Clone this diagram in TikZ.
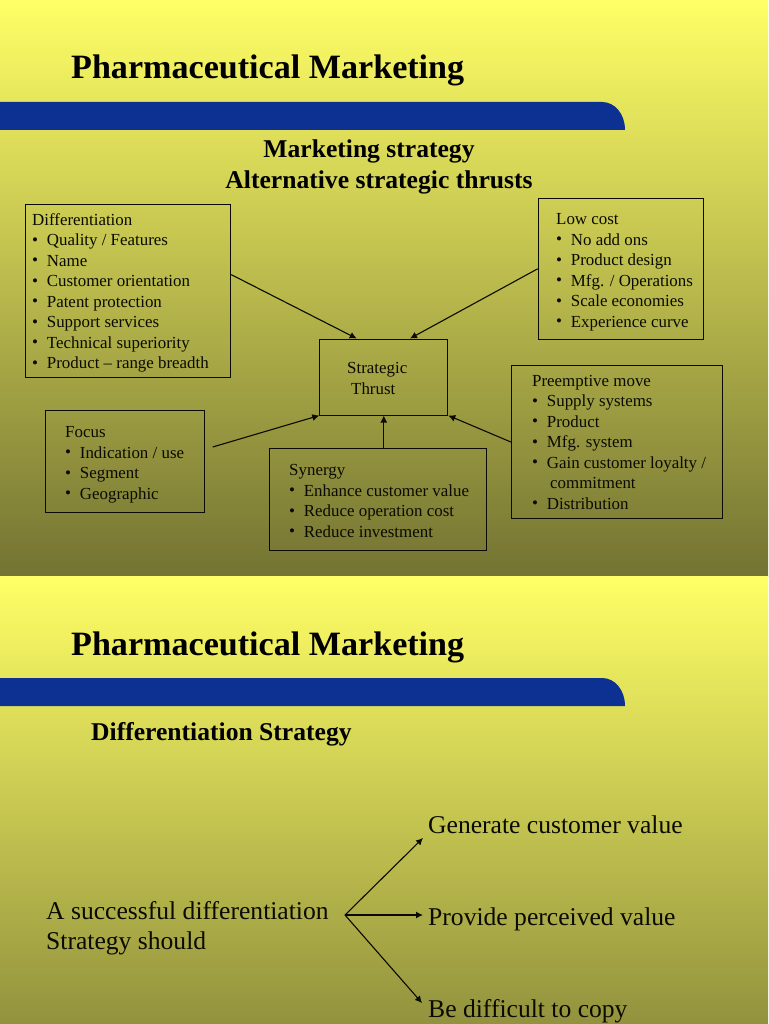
\documentclass[tikz,border=0pt]{standalone}
\usepackage{fontspec}
\setmainfont{Liberation Serif}
\usetikzlibrary{calc,arrows.meta}
\definecolor{slidetop}{HTML}{FFFF66}
\definecolor{slidebot}{HTML}{737333}
\definecolor{barblue}{HTML}{0C3193}
\definecolor{ink}{HTML}{0A0A00}
\newcommand{\bl}{\makebox[14.7pt][l]{\raisebox{0.5pt}{\fontsize{17}{17}\selectfont\textbullet}}}
\tikzset{
  x=1pt,y=-1pt,
  slidebg/.style={bottom color=slidebot,top color=slidetop,draw=none},
  boxed/.style={draw=ink,line width=1pt,inner sep=0pt},
  boxtext/.style={inner sep=0pt,anchor=north west,align=left,text=ink,font=\fontsize{16.9}{20.5}\selectfont},
  heading/.style={inner sep=0pt,text=black,font=\bfseries\fontsize{25.6}{31}\selectfont},
  titletext/.style={inner sep=0pt,anchor=base west,text=black,font=\bfseries\fontsize{34.1}{38}\selectfont},
  bigtext/.style={inner sep=0pt,anchor=base west,align=left,text=ink,font=\fontsize{25.6}{30.5}\selectfont},
  conn/.style={draw=ink,line width=1.1pt,-{Latex[length=7pt,width=7pt]}},
}
\begin{document}
\begin{tikzpicture}
\useasboundingbox (0,0) rectangle (768,1024);
\clip (0,0) rectangle (768,1024);
% slide backgrounds
\fill[slidebg] (0,576) rectangle (768,0);
\fill[slidebg] (0,1152) rectangle (768,576);
% bars
\fill[barblue] (0,102) -- (602,102) .. controls (615,102) and (625,114) .. (625,130) -- (0,130) -- cycle;
\fill[barblue] (0,678) -- (602,678) .. controls (615,678) and (625,690) .. (625,706) -- (0,706) -- cycle;
% titles
\node[titletext] (title1) at (71,79) {Pharmaceutical Marketing};
\node[titletext] (title2) at (71,655) {Pharmaceutical Marketing};
\node[heading] (sub1) at (369,151.5) {Marketing strategy};
\node[heading] (sub2) at (379,182.5) {Alternative strategic thrusts};
\node[heading,anchor=west] (sub3) at (91,734) {Differentiation Strategy};
% boxes
\node[boxed,minimum width=205pt,minimum height=173pt] (diff) at (128.2,290.8) {};
\node[boxed,minimum width=165pt,minimum height=141pt] (low) at (620.7,268.8) {};
\node[boxed,minimum width=128pt,minimum height=76pt] (thrust) at (383.8,377) {};
\node[boxed,minimum width=159pt,minimum height=102pt] (focus) at (124.7,461) {};
\node[boxed,minimum width=217pt,minimum height=102pt] (syn) at (377.8,499) {};
\node[boxed,minimum width=211pt,minimum height=153.5pt] (pre) at (617.3,442.2) {};
% box texts
\node[boxtext] (difft) at (32,213) {Differentiation\\\bl Quality / Features\\\bl Name\\\bl Customer orientation\\\bl Patent protection\\\bl Support services\\\bl Technical superiority\\\bl Product -- range breadth};
\node[boxtext] (lowt) at (556,213.5) {Low cost\\\bl No add ons\\\bl Product design\\\bl Mfg. / Operations\\\bl Scale economies\\\bl Experience curve};
\node[boxtext] (thrustt) at (347,362.5) {Strategic\\\hspace*{4pt}Thrust};
\node[boxtext] (focust) at (65,426.5) {Focus\\\bl Indication / use\\\bl Segment\\\bl Geographic};
\node[boxtext] (synt) at (289,464.5) {Synergy\\\bl Enhance customer value\\\bl Reduce operation cost\\\bl Reduce investment};
\node[boxtext] (pret) at (532,375) {Preemptive move\\\bl Supply systems\\\bl Product\\\bl Mfg. system\\\bl Gain customer loyalty /\\\hspace*{18pt}commitment\\\bl Distribution};
% connectors
\draw[conn] ($(diff.north east)!.407!(diff.south east)$) -- ($(thrust.north west)!.29!(thrust.north east)$);
\draw[conn] (low.west) -- ($(thrust.north west)!.703!(thrust.north east)$);
\draw[conn] ([shift={(8pt,14pt)}]focus.east) -- (thrust.south west);
\draw[conn] (thrust.south |- syn.north) -- (thrust.south);
\draw[conn] (pre.west) -- (thrust.south east);
% slide 2 diagram
\node[bigtext] (src) at (46,949.5) {A successful differentiation\\Strategy should};
\coordinate (hub) at (345,915);
\node[bigtext] (gen) at (428,833) {Generate customer value};
\node[bigtext] (prov) at (428,925) {Provide perceived value};
\node[bigtext] (copy) at (428,1017) {Be difficult to copy};
\draw[conn] (hub) -- ([shift={(-5pt,-5pt)}]gen.base west);
\draw[conn] (hub) -- ([xshift=-5pt]hub -| prov.west);
\draw[conn] (hub) -- ([shift={(-6pt,14pt)}]copy.base west);
\end{tikzpicture}
\end{document}
